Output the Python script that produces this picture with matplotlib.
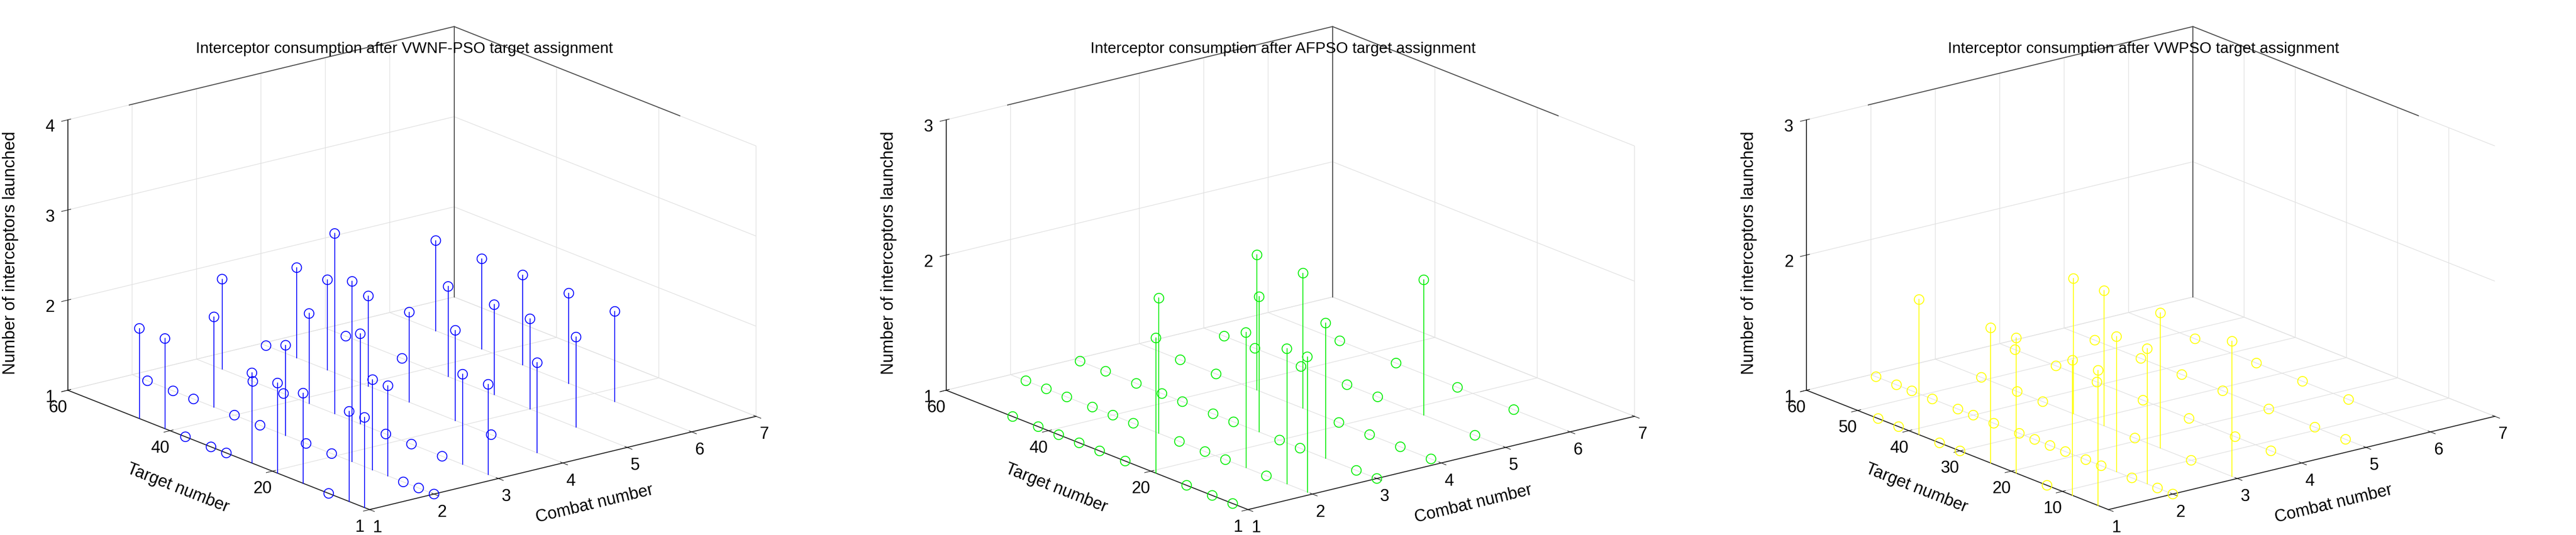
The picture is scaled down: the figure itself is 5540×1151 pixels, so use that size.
import matplotlib
matplotlib.use("Agg")
import matplotlib.pyplot as plt
import numpy as np

plt.rcParams['font.family'] = ['Liberation Sans', 'DejaVu Sans']

targets = list(range(1, 61))
combat_vwnf = [2,1,3,2,1,4,2,3,1,2, 5,3,2,1,4,6,2,3,1,5, 2,4,3,1,6,2,5,3,1,2,
               4,1,3,6,2,5,1,3,4,2, 1,6,3,2,5,1,4,2,3,1, 6,2,4,1,3,5,2,1,4,1]
count_vwnf = [1,2,2,1,2,2,1,2,1,2, 2,1,2,2,1,2,3,1,2,2, 1,2,1,2,2,1,2,2,1,2,
              2,1,3,2,1,2,1,2,2,1, 2,2,1,2,1,2,2,1,1,2, 2,1,2,1,2,1,1,2,1,1]
combat_afpso = [3,2,4,1,3,2,5,1,4,2, 3,6,1,2,4,3,5,2,1,3, 4,2,6,3,1,5,2,4,3,1,
                2,5,3,1,6,2,4,1,3,2, 5,1,3,2,4,6,1,3,2,5, 1,4,2,3,1,5,2,1,3,1]
count_afpso = [1,2,1,1,1,2,1,1,1,1, 2,1,1,2,1,1,2,1,2,1, 1,1,1,2,1,1,1,2,1,1,
               2,1,1,1,1,1,2,1,1,1, 1,1,1,1,1,1,1,1,1,1, 1,1,1,1,1,1,1,1,1,3]
combat_vwpso = [2,3,1,2,5,2,4,1,2,3, 5,2,1,4,2,3,6,2,1,5, 3,2,4,1,2,6,3,2,5,1,
                2,4,3,1,6,2,5,1,3,2, 4,1,2,3,5,1,6,2,4,1, 3,2,1,5,2,1,4,1,2,1]
count_vwpso = [1,2,2,1,1,2,1,2,1,1, 1,2,1,1,1,2,1,1,2,1, 1,1,1,2,1,1,2,1,1,1,
               1,1,2,1,1,1,1,2,1,1, 1,1,1,1,1,1,1,1,1,2, 1,1,1,1,1,2,1,1,1,1]

titles = ['Interceptor consumption after VWNF-PSO target assignment',
          'Interceptor consumption after AFPSO target assignment',
          'Interceptor consumption after VWPSO target assignment']
colors = ['#0000ff', '#00ee00', '#ffff00']
zmaxes = [4, 3, 3]
yticks_list = [[1, 20, 40, 60], [1, 20, 40, 60], [10, 20, 30, 40, 50, 60]]
datasets = [(combat_vwnf, count_vwnf), (combat_afpso, count_afpso), (combat_vwpso, count_vwpso)]

fig = plt.figure(figsize=(55.4, 11.51), dpi=100)
lefts = [-0.008, 0.333, 0.667]
for i in range(3):
    ax = fig.add_axes([lefts[i], -0.03, 0.33, 1.03], projection='3d')
    ax.set_proj_type('ortho')
    ax.view_init(elev=18, azim=-128)
    ax.set_box_aspect((1, 1, 0.58), zoom=1.32)
    xs, zs = datasets[i]
    ys = targets
    zmax = zmaxes[i]
    for x, y, z in zip(xs, ys, zs):
        if z > 1:
            ax.plot([x, x], [y, y], [1, z], color=colors[i], lw=1.3)
    ax.scatter(xs, ys, zs, facecolors='none', edgecolors=colors[i], s=220,
               linewidths=1.4, depthshade=False)
    ax.set_xlim(1, 7); ax.set_ylim(1, 60); ax.set_zlim(1, zmax)
    ax.set_xticks(range(1, 8)); ax.set_yticks(yticks_list[i]); ax.set_zticks(range(1, zmax + 1))
    ax.tick_params(labelsize=26)
    ax.set_xlabel('Combat number', fontsize=26, labelpad=26)
    ax.set_ylabel('Target number', fontsize=26, labelpad=26)
    ax.set_zlabel('Number of interceptors launched', fontsize=26, labelpad=16)
    for a in (ax.xaxis, ax.yaxis, ax.zaxis):
        a.set_pane_color((1, 1, 1, 1))
        a._axinfo['grid']['color'] = (0.88, 0.88, 0.88, 1)
        a._axinfo['grid']['linewidth'] = 1.0
        a.line.set_color('#262626')
        a.line.set_linewidth(1.5)
    kw = dict(color='#4d4d4d', lw=1.5)
    ax.plot([1, 7], [60, 60], [zmax, zmax], **kw)
    ax.plot([7, 7], [1, 60], [zmax, zmax], **kw)
    ax.plot([7, 7], [60, 60], [1, zmax], **kw)
    ax.plot([1, 1], [60, 60], [1, zmax], **kw)
    ax.plot([7, 7], [1, 1], [1, zmax], **kw)
    ax.set_title(titles[i], fontsize=24, y=0.975)

fig.savefig('out.png', dpi=100)
